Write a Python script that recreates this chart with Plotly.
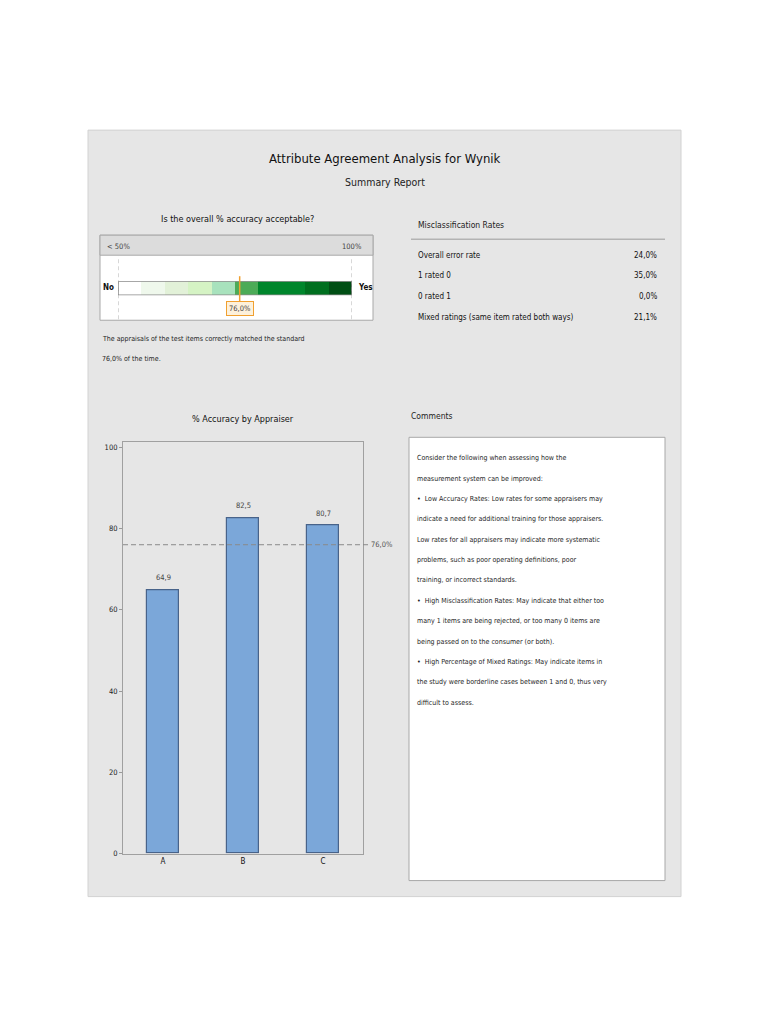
import plotly.graph_objects as go

# ---------------- data ----------------
title_text = "Attribute Agreement Analysis for Wynik"
subtitle_text = "Summary Report"

overall_accuracy = 76.0
accuracy_label = "76,0%"
gauge_edges = [50, 55, 60, 65, 70, 75, 80, 85, 90, 95, 100]
gauge_colors = ["#ffffff", "#eff8ec", "#e2f1d8", "#d5f3c4", "#a8e2bd",
                "#4cab57", "#00862c", "#00862c", "#006f1f", "#004e14"]

misclass_labels = ["Overall error rate", "1 rated 0", "0 rated 1",
                   "Mixed ratings (same item rated both ways)"]
misclass_values = ["24,0%", "35,0%", "0,0%", "21,1%"]

appraisers = ["A", "B", "C"]
appraiser_accuracy = [64.9, 82.5, 80.7]
appraiser_labels = ["64,9", "82,5", "80,7"]
y_ticks = [0, 20, 40, 60, 80, 100]

comment_lines = [
    "Consider the following when assessing how the",
    "measurement system can be improved:",
    "\u2022  Low Accuracy Rates: Low rates for some appraisers may",
    "indicate a need for additional training for those appraisers.",
    "Low rates for all appraisers may indicate more systematic",
    "problems, such as poor operating definitions, poor",
    "training, or incorrect standards.",
    "\u2022  High Misclassification Rates: May indicate that either too",
    "many 1 items are being rejected, or too many 0 items are",
    "being passed on to the consumer (or both).",
    "\u2022  High Percentage of Mixed Ratings: May indicate items in",
    "the study were borderline cases between 1 and 0, thus very",
    "difficult to assess.",
]

# ---------------- helpers ----------------
W, H = 768, 1024
OX, OY = 8, 8      # page body margin compensation
KY = 0.9945        # slight vertical scale of the captured page
FONT = "Liberation Sans Narrow, DejaVu Sans Condensed, Arial Narrow, sans-serif"
TXT = "#1e1e1e"


def px(x):
    return (x - OX) / W


def py(y):
    return 1 - (y / KY - OY) / H


fig = go.Figure()

# gauge segments (horizontal stacked bar on x2/y2)
for i, c in enumerate(gauge_colors):
    fig.add_trace(go.Bar(
        x=[gauge_edges[i + 1] - gauge_edges[i]], base=[gauge_edges[i]], y=[0],
        orientation="h", marker=dict(color=c, line=dict(width=0)),
        width=1, xaxis="x2", yaxis="y2", showlegend=False, hoverinfo="skip"))

# appraiser bars
fig.add_trace(go.Bar(
    x=appraisers, y=appraiser_accuracy, width=0.4,
    marker=dict(color="#7ba7d9", line=dict(color="#48638a", width=1.2)),
    showlegend=False, hoverinfo="skip"))

shapes = []
# panel
shapes.append(dict(type="rect", xref="paper", yref="paper", x0=px(88), x1=px(681),
                   y0=py(896), y1=py(130), fillcolor="#e6e6e6",
                   line=dict(color="#d2d2d2", width=1), layer="below"))
# gauge box
shapes.append(dict(type="rect", xref="paper", yref="paper", x0=px(100), x1=px(373),
                   y0=py(320), y1=py(235), fillcolor="#ffffff",
                   line=dict(color="#a8a8a8", width=1), layer="below"))
shapes.append(dict(type="rect", xref="paper", yref="paper", x0=px(100), x1=px(373),
                   y0=py(255), y1=py(235), fillcolor="#dcdcdc",
                   line=dict(color="#a8a8a8", width=1), layer="below"))
# dashed verticals at gauge ends
for e in (gauge_edges[0], gauge_edges[-1]):
    shapes.append(dict(type="line", xref="x2", yref="paper", x0=e, x1=e,
                       y0=py(319), y1=py(256),
                       line=dict(color="#b0b0b0", width=1, dash="4px,3px")))
# gauge outline
shapes.append(dict(type="rect", xref="x2", yref="y2", x0=gauge_edges[0], x1=gauge_edges[-1],
                   y0=-0.5, y1=0.5, line=dict(color="#8a8a8a", width=1.5), layer="above"))
# marker
shapes.append(dict(type="line", xref="x2", yref="paper", x0=overall_accuracy, x1=overall_accuracy,
                   y0=py(301), y1=py(276), line=dict(color="#f0a030", width=1.5), layer="above"))
# misclassification underline
shapes.append(dict(type="line", xref="paper", yref="paper", x0=px(411), x1=px(665),
                   y0=py(239), y1=py(239), line=dict(color="#9a9a9a", width=1)))
# comments box
shapes.append(dict(type="rect", xref="paper", yref="paper", x0=px(409), x1=px(665),
                   y0=py(880), y1=py(437), fillcolor="#ffffff",
                   line=dict(color="#a8a8a8", width=1), layer="below"))
# reference line at overall accuracy
shapes.append(dict(type="line", xref="x domain", yref="y", x0=0, x1=1.025,
                   y0=overall_accuracy, y1=overall_accuracy,
                   line=dict(color="#8a8a8a", width=1, dash="5px,3px")))

ann = []


def note(text, x, y, size, color=TXT, xref="paper", yref="paper", xanchor="center", **kw):
    d = dict(text=text, x=x, y=y, xref=xref, yref=yref, xanchor=xanchor,
             yanchor=kw.pop("yanchor", "middle"), showarrow=False,
             font=dict(size=size, color=color, family=FONT))
    d.update(kw)
    ann.append(d)


note(title_text, px(385), py(158), 13, "#111111")
note(subtitle_text, px(385), py(182), 10.5, "#222222")
note("Is the overall % accuracy acceptable?", px(237), py(219), 9, "#111111")
note("< 50%", gauge_edges[0], py(246), 7.5, "#444444", xref="x2")
note("100%", gauge_edges[-1], py(246), 7.5, "#444444", xref="x2")
note("<b>No</b>", gauge_edges[0], py(287), 8, "#111111", xref="x2", xanchor="right", xshift=-2)
note("<b>Yes</b>", gauge_edges[-1], py(287), 8, "#111111", xref="x2", xanchor="left", xshift=4)
note(accuracy_label, overall_accuracy, py(308), 7.5, "#444444", xref="x2",
     bgcolor="#fdf1dc", bordercolor="#f0a030", borderwidth=1, borderpad=2)
note("The appraisals of the test items correctly matched the standard",
     px(100), py(339), 7, xanchor="left")
note(accuracy_label + " of the time.", px(100), py(359), 7, xanchor="left")

# misclassification table
note("Misclassification Rates", px(416), py(225), 8.5, "#222222", xanchor="left")
row_y = [255, 275, 296, 317]
for lab, val, yy in zip(misclass_labels, misclass_values, row_y):
    note(lab, px(416), py(yy), 8, "#111111", xanchor="left")
    note(val, px(659), py(yy), 8, "#111111", xanchor="right")

# bar chart title and labels
note("% Accuracy by Appraiser", px(243), py(419), 9, "#111111")
for a, v, l in zip(appraisers, appraiser_accuracy, appraiser_labels):
    note(l, a, v, 7.5, "#444444", xref="x", yref="y", yanchor="bottom", yshift=6)
note(accuracy_label, 1.025, overall_accuracy, 7.5, "#555555", xref="x domain", yref="y",
     xanchor="left")

# comments
note("Comments", px(409), py(416), 8.5, "#222222", xanchor="left")
for i, line in enumerate(comment_lines):
    note(line, px(415), py(458 + i * 20.35), 7, TXT, xanchor="left")

fig.update_layout(
    width=W, height=H, margin=dict(l=0, r=0, t=0, b=0),
    paper_bgcolor="#ffffff", plot_bgcolor="#ffffff",
    barmode="overlay", bargap=0,
    font=dict(family=FONT, color=TXT),
    shapes=shapes, annotations=ann,
    xaxis=dict(domain=[px(123), px(363)], range=[-0.5, 2.5], type="category",
               showline=True, mirror=True, linecolor="#a0a0a0", linewidth=1,
               ticks="", showgrid=False, zeroline=False,
               tickfont=dict(size=8, color="#111111", family=FONT)),
    yaxis=dict(domain=[py(853), py(442)], range=[0, 101.2], tickvals=y_ticks,
               showline=True, mirror=True, linecolor="#a0a0a0", linewidth=1,
               ticks="outside", ticklen=3, tickcolor="#999999", showgrid=False,
               zeroline=False, tickfont=dict(size=7.5, color="#222222", family=FONT)),
    xaxis2=dict(domain=[px(118), px(352)], range=[gauge_edges[0], gauge_edges[-1]],
                visible=False, anchor="y2"),
    yaxis2=dict(domain=[py(295), py(281)], range=[-0.5, 0.5], visible=False, anchor="x2"),
)

fig.write_html("out.html")
